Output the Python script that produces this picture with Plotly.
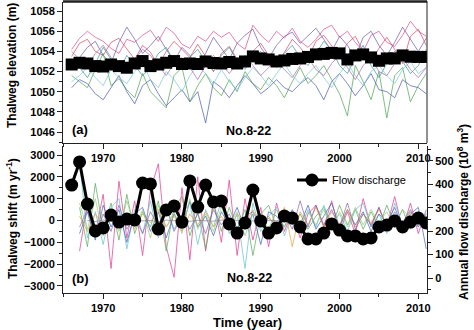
import plotly.graph_objects as go

# ---------------- data ----------------
years_a = list(range(1966, 2012))   # 46 years, panel (a)
years_b = list(range(1967, 2012))   # 45 years, panel (b)
years_b_gray = list(range(1968, 1994))

mean_elev = [1052.7, 1052.87, 1052.8, 1052.54, 1052.5, 1052.7, 1052.54, 1052.38, 1052.8, 1053.04,
             1052.54, 1052.7, 1052.87, 1053.04, 1052.75, 1052.8, 1052.75, 1053.0, 1052.85, 1052.8,
             1052.95, 1052.8, 1053.0, 1053.5, 1053.3, 1053.2, 1053.0, 1053.1, 1053.25, 1053.3,
             1053.45, 1053.7, 1053.75, 1053.85, 1053.8, 1053.2, 1053.6, 1053.7, 1053.4, 1053.07,
             1053.3, 1053.3, 1053.6, 1053.47, 1053.45, 1053.45]

elev_pink = [1054.2, 1055.3, 1056.0, 1055.4, 1055.0, 1054.3, 1053.8, 1055.2, 1054.9, 1055.6,
             1056.1, 1055.0, 1056.4, 1055.8, 1054.7, 1054.3, 1055.5, 1055.0, 1056.0, 1055.4,
             1055.9, 1054.8, 1054.2, 1056.6, 1055.6, 1054.9, 1056.0, 1055.3, 1056.3, 1055.0,
             1054.4, 1055.2, 1056.2, 1056.6, 1055.4, 1056.0, 1054.9, 1054.0, 1055.6, 1056.0,
             1054.9, 1054.5, 1055.6, 1057.0, 1056.0, 1055.5]
elev_red = [1053.5, 1054.8, 1055.2, 1054.0, 1053.6, 1054.9, 1055.3, 1054.2, 1053.2, 1054.6,
            1053.9, 1052.6, 1054.0, 1055.0, 1054.2, 1053.4, 1054.7, 1053.5, 1052.0, 1053.8,
            1054.5, 1053.2, 1052.4, 1054.0, 1054.8, 1053.6, 1052.8, 1053.9, 1055.2, 1054.4,
            1053.3, 1055.0, 1055.6, 1054.6, 1053.5, 1054.8, 1055.5, 1054.0, 1053.0, 1054.3,
            1055.4, 1054.2, 1052.8, 1055.5, 1056.2, 1054.6]
elev_purple = [1052.2, 1053.4, 1054.4, 1055.0, 1053.6, 1052.8, 1054.9, 1056.4, 1055.2, 1053.8,
               1054.6, 1055.5, 1054.2, 1053.0, 1054.4, 1053.6, 1052.4, 1053.8, 1055.4, 1054.3,
               1053.2, 1054.8, 1055.6, 1056.2, 1054.4, 1053.3, 1054.6, 1055.5, 1055.9, 1054.8,
               1055.6, 1056.3, 1055.2, 1054.0, 1055.5, 1054.6, 1053.4, 1055.4, 1056.0, 1054.6,
               1053.6, 1054.9, 1056.4, 1055.2, 1054.0, 1055.3]
elev_green = [1051.6, 1051.0, 1050.4, 1052.2, 1053.8, 1050.6, 1051.3, 1050.2, 1049.4, 1051.8,
              1050.0, 1049.2, 1048.4, 1051.6, 1052.4, 1049.0, 1050.6, 1051.8, 1050.4, 1049.6,
              1051.2, 1050.0, 1052.0, 1050.8, 1050.2, 1051.4, 1050.6, 1049.4, 1051.0, 1052.4,
              1050.8, 1051.6, 1052.6, 1051.2, 1049.8, 1047.6, 1052.6, 1051.0, 1049.2, 1052.0,
              1047.4, 1051.6, 1052.4, 1049.0, 1050.6, 1051.8]
elev_blue = [1050.4, 1051.2, 1050.8, 1049.8, 1049.2, 1050.4, 1051.6, 1050.0, 1048.8, 1050.6,
             1051.2, 1049.8, 1048.6, 1049.4, 1050.2, 1049.0, 1050.0, 1046.9, 1051.0, 1050.4,
             1049.4, 1050.6, 1051.6, 1050.8, 1049.8, 1050.4, 1051.2, 1050.4, 1050.0, 1050.8,
             1051.4, 1050.6, 1049.2, 1051.0, 1051.8, 1050.8, 1049.6, 1050.6, 1051.8, 1050.2,
             1050.0, 1049.4, 1051.2, 1050.6, 1050.4, 1049.8]
elev_teal = [1053.0, 1052.4, 1051.4, 1052.8, 1054.4, 1053.2, 1052.0, 1053.6, 1052.6, 1051.6,
             1052.4, 1053.8, 1054.4, 1053.0, 1052.2, 1053.4, 1054.2, 1053.0, 1052.0, 1053.6,
             1054.4, 1053.0, 1052.2, 1053.4, 1054.0, 1053.2, 1052.4, 1053.8, 1054.6, 1053.4,
             1052.6, 1053.8, 1055.0, 1054.2, 1052.6, 1051.8, 1053.4, 1054.6, 1052.6, 1051.4,
             1052.8, 1054.0, 1053.0, 1051.8, 1052.6, 1054.2]
elev_cyan = [1051.0, 1051.6, 1052.4, 1051.4, 1050.6, 1052.2, 1051.4, 1050.8, 1052.0, 1052.8,
             1051.2, 1050.4, 1052.0, 1051.2, 1050.0, 1051.6, 1052.6, 1051.8, 1050.8, 1052.2,
             1051.0, 1050.2, 1051.4, 1052.4, 1051.6, 1050.6, 1051.8, 1052.8, 1051.6, 1050.8,
             1051.8, 1052.6, 1051.4, 1050.4, 1051.8, 1052.8, 1051.6, 1050.6, 1052.0, 1052.6,
             1051.6, 1050.8, 1052.2, 1053.0, 1051.8, 1052.4]
elev_mauve = [1054.0, 1053.2, 1052.6, 1053.8, 1054.6, 1053.4, 1052.6, 1051.8, 1053.2, 1054.2,
              1053.6, 1052.6, 1051.6, 1052.8, 1053.4, 1052.4, 1051.2, 1052.6, 1053.6, 1052.8,
              1051.8, 1052.8, 1053.6, 1052.6, 1051.6, 1052.4, 1053.2, 1052.2, 1051.4, 1052.6,
              1053.4, 1052.2, 1051.6, 1052.8, 1053.6, 1052.4, 1051.2, 1052.6, 1053.4, 1052.0,
              1051.6, 1052.8, 1053.4, 1052.2, 1051.4, 1052.4]

shift_pink = [-1400, 800, -600, 1200, -2200, 1800, -800, 900, -1600, 1400,
              2600, -1200, -2600, 1500, -1800, 2000, -1400, 900, -1000, 1850,
              -1600, 1000, -900, 600, -1200, 800, -500, 400, -800, 300,
              700, -300, 900, -500, 400, -600, 1000, -300, 600, -300,
              1100, -400, 800, -600, 500]
shift_green = [600, -1200, 1700, -400, 800, -900, 1200, -600, 400, -300,
               900, -1400, 600, 1100, -700, 400, -1300, 800, -500, 600,
               -400, 500, -1600, 300, 700, -300, 400, -200, 300, -400,
               200, 600, -300, 700, -200, 500, -400, 400, -300, 700,
               -200, 500, -400, 400, 100]
shift_cyan = [2700, -800, 400, -1100, 600, 1000, -1300, 500, -600, 900,
              -800, 700, -400, 300, 800, -1100, 500, -300, 900, -600,
              300, -2200, 800, -500, 200, 600, -700, 300, -400, 500,
              -300, 700, -200, 300, -500, 500, 800, -300, 300, -600,
              800, -200, 400, -300, 400]
shift_blue = [-600, 400, -900, 700, -300, 500, -1000, 300, 600, -500,
              400, -800, 300, -400, 900, -300, 200, -700, 400, -200,
              600, -400, 300, -1100, 400, 200, -300, 500, -200, 700,
              -400, 200, 800, -300, 500, -200, 400, -500, 300, -100,
              600, -300, 300, 600, -1300]
shift_orange = [200, -500, 300, -200, 400, -300, 200, -400, 300, -100,
                500, -300, 200, -500, 300, -200, 400, -300, 200, -400,
                300, -200, 500, -300, 200, -400, 600, -1200, 400, -200,
                600, -300, 400, -200, 500, -300, 300, -100, 500, -200,
                300, -200, 400, -100, 200]
shift_purple = [-300, 500, -800, 300, -500, 700, -400, 200, -600, 400,
                -300, 600, -500, 200, -400, 300, -600, 500, -200, 300,
                -400, 200, 400, -300, 100, -200, 300, -400, 900, -300,
                700, -200, 500, -300, 800, -400, 300, -200, 600, -300,
                400, -100, 500, -300, 300]
shift_lgreen = [800, -400, 1000, -700, 300, -500, 900, -300, 500, -800,
                700, -300, 400, -600, 1000, -400, 300, -500, 600, -200,
                400, -700, 300, 200, -400, 500, -300, 200, -200, 400,
                -200, 500, -400, 400, -300, 600, -200, 500, -100, 400,
                -300, 500, 100, -200, 300]
shift_gray = [0, -50, 20, -30, 10, -40, 30, -20, 0, -60, 20, -10, 30,
              -40, 10, 0, -30, 20, -50, 10, 0, -20, 30, -10, 0, -30]

flow_years = list(range(1966, 2012))
flow = [397, 496, 316, 201, 214, 269, 239, 252, 248, 406,
        402, 209, 291, 308, 239, 415, 303, 397, 325, 329,
        231, 192, 235, 376, 244, 192, 214, 265, 256, 218,
        167, 167, 192, 231, 205, 180, 180, 167, 171, 218,
        226, 244, 218, 239, 256, 235]

x_ticks = [1970, 1980, 1990, 2000, 2010]

# ---------------- figure ----------------
fig = go.Figure()

elev_series = [
    (elev_pink, "rgba(220,90,150,0.85)"),
    (elev_red, "rgba(215,60,90,0.75)"),
    (elev_purple, "rgba(110,90,170,0.8)"),
    (elev_green, "rgba(80,165,80,0.8)"),
    (elev_blue, "rgba(80,90,175,0.8)"),
    (elev_teal, "rgba(60,150,150,0.8)"),
    (elev_cyan, "rgba(120,200,215,0.8)"),
    (elev_mauve, "rgba(160,100,170,0.75)"),
]
for vals, col in elev_series:
    fig.add_trace(go.Scatter(x=years_a, y=vals, mode="lines",
                             line=dict(color=col, width=0.9),
                             xaxis="x", yaxis="y", showlegend=False))
fig.add_trace(go.Scatter(x=years_a, y=mean_elev, mode="lines+markers",
                         line=dict(color="black", width=3),
                         marker=dict(symbol="square", size=12, color="black"),
                         xaxis="x", yaxis="y", showlegend=False))

shift_series = [
    (shift_pink, "rgba(225,70,150,0.85)"),
    (shift_green, "rgba(90,170,90,0.8)"),
    (shift_cyan, "rgba(110,195,215,0.85)"),
    (shift_blue, "rgba(70,100,190,0.8)"),
    (shift_orange, "rgba(230,160,60,0.8)"),
    (shift_purple, "rgba(130,90,170,0.75)"),
    (shift_lgreen, "rgba(150,205,120,0.8)"),
]
for vals, col in shift_series:
    fig.add_trace(go.Scatter(x=years_b, y=vals, mode="lines",
                             line=dict(color=col, width=0.9),
                             xaxis="x2", yaxis="y2", showlegend=False))
fig.add_trace(go.Scatter(x=years_b_gray, y=shift_gray, mode="lines",
                         line=dict(color="rgba(130,130,150,0.8)", width=0.9),
                         xaxis="x2", yaxis="y2", showlegend=False))

fig.add_trace(go.Scatter(x=flow_years, y=flow, mode="lines+markers",
                         name="Flow discharge",
                         line=dict(color="black", width=3),
                         marker=dict(symbol="circle", size=13, color="black"),
                         xaxis="x2", yaxis="y3", showlegend=True))

W, H = 474, 330
L, R, T, B = 63, 47, 0, 37
pw, ph = W - L - R, H - T - B


def py(p):
    return (H - B - p) / ph


def px(p):
    return (p - L) / pw


tickfont = dict(family="Liberation Sans", size=11, color="black", weight="bold")
axis_common = dict(showline=True, linecolor="#222", linewidth=1, ticks="outside",
                   tickcolor="#222", ticklen=5, tickwidth=1, showgrid=False,
                   zeroline=False, tickfont=tickfont)

xr = [1964.9, 2011.1]
fig.update_layout(
    width=W, height=H,
    margin=dict(l=L, r=R, t=T, b=B),
    plot_bgcolor="white", paper_bgcolor="white",
    font=dict(family="Liberation Sans", color="black"),
    xaxis=dict(domain=[0, 1], anchor="y", range=xr, tickvals=x_ticks,
               minor=dict(dtick=5, tick0=1965, ticks="outside", ticklen=3, tickcolor="#222"),
               mirror=False, **axis_common),
    yaxis=dict(domain=[py(143), py(2)], anchor="x", range=[1044.91, 1058.9],
               dtick=2, tick0=1046,
               minor=dict(dtick=1, ticks="outside", ticklen=3, tickcolor="#222"),
               **axis_common),
    xaxis2=dict(domain=[0, 1], anchor="y2", range=xr, tickvals=x_ticks,
                minor=dict(dtick=5, tick0=1965, ticks="outside", ticklen=3, tickcolor="#222"),
                **axis_common),
    yaxis2=dict(domain=[0, py(146)], anchor="x2", range=[-3321, 3412],
                tickvals=[-3000, -2000, -1000, 0, 1000, 2000, 3000],
                minor=dict(dtick=500, ticks="outside", ticklen=3, tickcolor="#222"),
                **axis_common),
    yaxis3=dict(overlaying="y2", side="right", anchor="x2", range=[-64, 564],
                tickvals=[0, 100, 200, 300, 400, 500],
                minor=dict(dtick=50, ticks="outside", ticklen=3, tickcolor="#222"),
                **axis_common),
    showlegend=True,
    legend=dict(x=px(292), y=py(180), xanchor="left", yanchor="middle",
                bgcolor="rgba(0,0,0,0)", font=dict(size=11, color="black"),
                itemwidth=30),
)

# frame lines for panel (a): top (thick) and right
fig.add_shape(type="line", xref="paper", yref="paper", x0=0, x1=1, y0=py(1.5), y1=py(1.5),
              line=dict(color="#222", width=2.5))
fig.add_shape(type="line", xref="paper", yref="paper", x0=1, x1=1, y0=py(143), y1=py(1),
              line=dict(color="#222", width=1))

bold = dict(family="Liberation Sans", color="black", weight="bold")
ann = [
    dict(text="(a)", x=px(80), y=py(129), size=13),
    dict(text="No.8-22", x=px(248), y=py(131), size=12.5),
    dict(text="(b)", x=px(80), y=py(278), size=13),
    dict(text="No.8-22", x=px(249), y=py(278), size=12.5),
]
for a in ann:
    fig.add_annotation(text=a["text"], x=a["x"], y=a["y"], xref="paper", yref="paper",
                       showarrow=False, xanchor="center", yanchor="middle",
                       font=dict(size=a["size"], **bold))

fig.add_annotation(text="Time (year)", x=px(247), y=(H - B - 322) / ph, xref="paper", yref="paper",
                   showarrow=False, xanchor="center", yanchor="middle",
                   font=dict(size=13, **bold))
fig.add_annotation(text="Thalweg elevation (m)", x=px(12), y=py(66), xref="paper", yref="paper",
                   showarrow=False, xanchor="center", yanchor="middle", textangle=-90,
                   font=dict(size=12, **bold))
fig.add_annotation(text="Thalweg shift (m yr<sup>-1</sup>)", x=px(12), y=py(219), xref="paper",
                   yref="paper", showarrow=False, xanchor="center", yanchor="middle",
                   textangle=-90, font=dict(size=12, **bold))
fig.add_annotation(text="Annual flow discharge (10<sup>8</sup> m<sup>3</sup>)", x=px(463),
                   y=py(212), xref="paper", yref="paper", showarrow=False, xanchor="center",
                   yanchor="middle", textangle=-90, font=dict(size=12, **bold))

fig.write_html("out.html")
